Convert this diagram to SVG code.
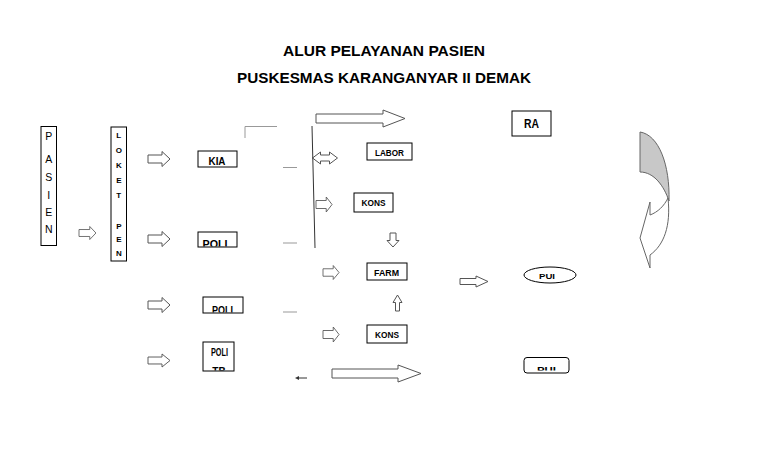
<svg xmlns="http://www.w3.org/2000/svg" xmlns:xlink="http://www.w3.org/1999/xlink" width="768" height="466" viewBox="0 0 768 466">
<style>
.title{font-family:"Liberation Sans",Arial,sans-serif;font-weight:bold;font-size:15px;fill:#000}
.box{fill:#fff;stroke:#000;stroke-width:1}
.lbl{font-family:"Liberation Sans",Arial,sans-serif;font-weight:bold;font-size:9px;fill:#000;text-anchor:middle}
.lg{font-size:11px}
.md{font-size:10px}
.vlbl{font-family:"Liberation Sans",Arial,sans-serif;font-size:10.5px;fill:#000;text-anchor:middle}
.vlbl2{font-family:"Liberation Sans",Arial,sans-serif;font-size:8px;font-weight:bold;fill:#000;text-anchor:middle}
.arr{fill:#fff;stroke:#555;stroke-width:1}
.gline{stroke:#999;stroke-width:1;fill:none}
.bline{stroke:#333;stroke-width:1;fill:none}
</style>
<defs>
<path id="sa" d="M0,-4 H14 V-7.5 L22,0 L14,7.5 V4 H0 Z"/>
<clipPath id="c1"><rect x="198" y="232" width="39" height="14.5"/></clipPath>
<clipPath id="c2"><rect x="203" y="297" width="40" height="15.5"/></clipPath>
<clipPath id="c3"><rect x="203" y="342" width="31" height="28.5"/></clipPath>
<clipPath id="c4"><rect x="524" y="357" width="45" height="13.5"/></clipPath>
</defs>
<rect width="768" height="466" fill="#fff"/>

<g id="title">
<text class="title" x="283" y="56" textLength="202" lengthAdjust="spacingAndGlyphs">ALUR PELAYANAN PASIEN</text>
<text class="title" x="237" y="83" textLength="294" lengthAdjust="spacingAndGlyphs">PUSKESMAS KARANGANYAR II DEMAK</text>
</g>

<g id="pasien">
<rect class="box" x="41" y="126.5" width="15.5" height="119"/>
<text class="vlbl" x="48.8" y="140">P</text>
<text class="vlbl" x="48.8" y="163">A</text>
<text class="vlbl" x="48.8" y="181">S</text>
<text class="vlbl" x="48.8" y="199">I</text>
<text class="vlbl" x="48.8" y="216">E</text>
<text class="vlbl" x="48.8" y="233">N</text>
</g>

<g id="loket">
<rect class="box" x="111" y="127" width="15.5" height="134"/>
<text class="vlbl2" x="118.8" y="138">L</text>
<text class="vlbl2" x="118.8" y="153">O</text>
<text class="vlbl2" x="118.8" y="168">K</text>
<text class="vlbl2" x="118.8" y="183">E</text>
<text class="vlbl2" x="118.8" y="198">T</text>
<text class="vlbl2" x="118.8" y="229">P</text>
<text class="vlbl2" x="118.8" y="242">E</text>
<text class="vlbl2" x="118.8" y="256">N</text>
</g>

<g id="kia"><rect class="box" x="198" y="151" width="39" height="16"/><text class="lbl lg" x="217" y="165" textLength="17" lengthAdjust="spacingAndGlyphs">KIA</text></g>
<g id="poli1"><rect class="box" x="198" y="232" width="39" height="15"/><text class="lbl lg" x="215" y="247.5" textLength="25" lengthAdjust="spacingAndGlyphs" clip-path="url(#c1)">POLI</text></g>
<g id="poli2"><rect class="box" x="203" y="297" width="40" height="16"/><text class="lbl md" x="222.5" y="313.5" textLength="21" lengthAdjust="spacingAndGlyphs" clip-path="url(#c2)">POLI</text></g>
<g id="politb"><rect class="box" x="203" y="342" width="31" height="29"/><g clip-path="url(#c3)"><text class="lbl md" x="219.5" y="355.5" textLength="17" lengthAdjust="spacingAndGlyphs">POLI</text><text class="lbl md" x="219" y="374.5">TB</text></g></g>
<g id="labor"><rect class="box" x="367" y="143" width="45" height="17"/><text class="lbl" x="389.5" y="156" textLength="29" lengthAdjust="spacingAndGlyphs">LABOR</text></g>
<g id="kons1"><rect class="box" x="354" y="193" width="39" height="19"/><text class="lbl" x="373.5" y="205.5" textLength="24" lengthAdjust="spacingAndGlyphs">KONS</text></g>
<g id="farm"><rect class="box" x="367" y="263" width="40" height="17"/><text class="lbl" x="386.5" y="276" textLength="25" lengthAdjust="spacingAndGlyphs">FARM</text></g>
<g id="kons2"><rect class="box" x="367" y="325" width="40" height="18"/><text class="lbl" x="387" y="337.5" textLength="24" lengthAdjust="spacingAndGlyphs">KONS</text></g>
<g id="ra"><rect class="box" x="512" y="111" width="39" height="25"/><text class="lbl" style="font-size:12.5px" x="531.5" y="127.5" textLength="15" lengthAdjust="spacingAndGlyphs">RA</text></g>
<g id="pui1"><ellipse class="box" cx="550" cy="275" rx="26" ry="8"/><text class="lbl" style="font-size:8px" x="547" y="278.5" textLength="16" lengthAdjust="spacingAndGlyphs">PUI</text></g>
<g id="pui2"><rect class="box" x="524" y="357.5" width="45" height="15.5" rx="3"/><text class="lbl" x="546.5" y="373" textLength="19" lengthAdjust="spacingAndGlyphs" clip-path="url(#c4)">PUI</text></g>

<g id="curved-arrow">
<path d="M640,132 C659,135 670,165 669,201 C664,186 654,172 640,172 Z" fill="#c8c8c8" stroke="#666" stroke-width="1"/>
<path d="M668,198 C671,226 664,245 650,255 L650,268 L640,238 L650,202 L650,215 C658,212 664,206 668,198 Z" fill="#fff" stroke="#666" stroke-width="1"/>
</g>

<g id="connectors">
<use xlink:href="#sa" class="arr" transform="translate(79,233) scale(0.77,0.87)"/>
<use xlink:href="#sa" class="arr" transform="translate(148,159)"/>
<use xlink:href="#sa" class="arr" transform="translate(148,239)"/>
<use xlink:href="#sa" class="arr" transform="translate(148,305)"/>
<use xlink:href="#sa" class="arr" transform="translate(148,360.5) scale(1,0.87)"/>
<use xlink:href="#sa" class="arr" transform="translate(316,204.5) scale(0.73,1)"/>
<use xlink:href="#sa" class="arr" transform="translate(323,272.5) scale(0.73,0.93)"/>
<use xlink:href="#sa" class="arr" transform="translate(323,334.5) scale(0.73,1)"/>
<path class="arr" d="M460,278.5 H476 V276 L488,281.5 L476,287 V284.5 H460 Z"/>
<path class="arr" d="M316,114 H383 V110 L405,118.5 L383,127 V123 H316 Z"/>
<path class="arr" d="M332,369 H398 V365 L421,373.5 L398,382 V378 H332 Z"/>
<path class="arr" d="M312.5,158 L320.5,152 V155 H329.5 V152 L337.5,158 L329.5,164 V161 H320.5 V164 Z"/>
<path class="arr" d="M390,233 H396 V240.5 H399 L393,247 L387,240.5 H390 Z"/>
<path class="arr" d="M395.5,311 V302.5 H393 L397.5,295 L402,302.5 H399.5 V311 Z"/>
<path class="gline" d="M245,138 V126.5 H277"/>
<path class="bline" d="M312,126 L315,248"/>
<path class="gline" d="M283,167.5 H297 M283,243 H297 M283,312 H297"/>
<path d="M307,378 H298" stroke="#333" stroke-width="1"/>
<path d="M295,378 L299,376 L299,380 Z" fill="#333"/>
</g>
</svg>
